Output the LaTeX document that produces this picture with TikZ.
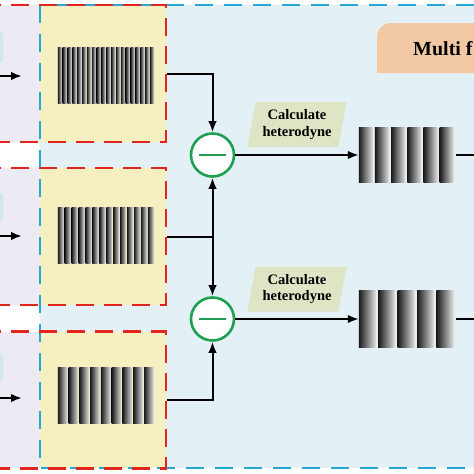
\documentclass[tikz,border=0pt]{standalone}
\usepackage{fontspec}
\setmainfont{Liberation Serif}
\usepackage{tikz}
\usetikzlibrary{
    arrows.meta,
    positioning,
    shapes.geometric,
    calc
}
\usepackage{xcolor}
\definecolor{panelblue}{RGB}{227,240,246}
\definecolor{lavender}{RGB}{236,234,243}
\definecolor{boxyellow}{RGB}{246,239,192}
\definecolor{sliver}{RGB}{208,230,238}
\definecolor{dashred}{RGB}{226,38,30}
\definecolor{dashblue}{RGB}{40,166,214}
\definecolor{ringgreen}{RGB}{30,160,80}
\definecolor{labelgreen}{RGB}{221,229,196}
\definecolor{peach}{RGB}{242,201,165}

\begin{document}
\begin{tikzpicture}[
    x=1pt, y=-1pt,
    link/.style={line width=2pt, -{Latex[length=11pt, width=8.5pt]}},
    plain/.style={line width=2pt},
    rowbox/.style={
        rectangle, draw=dashred, line width=2.5pt,
        dash pattern=on 18pt off 10pt,
        minimum width=174pt, minimum height=137pt, inner sep=0pt
    },
    fringe/.style={
        rectangle, minimum width=97pt, minimum height=55pt, inner sep=0pt
    },
    diff/.style={
        circle, draw=ringgreen, line width=2.6pt, fill=white,
        minimum size=43pt, inner sep=0pt,
        path picture={\draw[ringgreen, line width=2.6pt]
            ([xshift=-13.5pt]path picture bounding box.center) --
            ([xshift=13.5pt]path picture bounding box.center);}
    },
    calcbox/.style={
        trapezium, trapezium left angle=77, trapezium right angle=103,
        trapezium stretches=true, fill=labelgreen,
        minimum width=100pt, minimum height=45pt, inner sep=0pt,
        align=center, font=\fontsize{14.5}{16.5}\selectfont\bfseries
    }
]
\useasboundingbox (0,0) rectangle (474,474);

% Panels
\fill[panelblue] (40,5) rectangle (490,468);
\foreach \t/\b in {5/142, 168/305, 332/468}{
    \fill[lavender] (-8,\t) rectangle (40,\b);
    \fill[boxyellow] (40,\t) rectangle (166,\b);
}
\foreach \t/\b in {32/62, 193/220, 355/380}
    \fill[sliver, rounded corners=2pt] (-10,\t) rectangle (3,\b);
\draw[dashblue, line width=2.3pt, dash pattern=on 18pt off 11pt] (40,5) rectangle (490,468);

% Input rows
\node[rowbox] (row1) at (79,73.5) {};
\node[rowbox] (row2) at (79,236.5) {};
\node[rowbox] (row3) at (79,400) {};

% Fringe patterns
\node[fringe] (pat1) at (106.5,75.5) {};
\node[fringe] (pat2) at (106.5,235.5) {};
\node[fringe] (pat3) at (106.5,395.5) {};
\node[fringe, minimum height=54pt] (beat1) at (407.5,155) {};
\node[fringe, minimum height=56pt] (beat2) at (407.5,319) {};
\foreach \p/\k/\f in {pat1/20/0.85, pat2/14/0.85, pat3/9/0.88, beat1/6/0.86, beat2/5/0.87}{
    \pgfmathsetmacro{\per}{97/\k}
    \foreach \i in {1,...,\k}
        \shade[left color=black!90, right color=white!88!black]
            ([xshift={(\i-1)*\per}]\p.north west) rectangle
            ([xshift={(\i-1+\f)*\per}]\p.south west);
}

% Subtraction
\node[diff] (diff1) at (212.5,155) {};
\node[diff] (diff2) at (212.5,319) {};

% Labels
\node[calcbox] (calc1) at (297,124.5) {Calculate\\heterodyne};
\node[calcbox] (calc2) at (297,289) {Calculate\\heterodyne};
\fill[peach] (377,73) -- (377,37) .. controls (377,29) and (383,23) .. (391,23)
    -- (490,23) -- (490,73) -- cycle;
\node[font=\fontsize{20}{22}\selectfont\bfseries, anchor=base west, inner sep=0pt]
    (mtitle) at (413,55) {Multi f};

% Arrows
\coordinate (src1) at (-2,76);  \coordinate (dst1) at (22,76);
\coordinate (src2) at (-2,236); \coordinate (dst2) at (22,236);
\coordinate (src3) at (-2,398); \coordinate (dst3) at (22,398);
\draw[link] (src1) -- (dst1);
\draw[link] (src2) -- (dst2);
\draw[link] (src3) -- (dst3);
\draw[link] (row1.east) -| (diff1.north);
\coordinate (split) at (diff1 |- row2.east);
\draw[plain] (row2.east) -- (split);
\draw[link] (split) -- (diff1.south);
\draw[link] (split) -- (diff2.north);
\draw[link] (row3.east) -| (diff2.south);
\draw[link] (diff1) -- (beat1);
\draw[link] (diff2) -- (beat2);
\coordinate (out1) at (480,155);
\coordinate (out2) at (480,319);
\draw[plain] (beat1) -- (out1);
\draw[plain] (beat2) -- (out2);

\end{tikzpicture}
\end{document}
